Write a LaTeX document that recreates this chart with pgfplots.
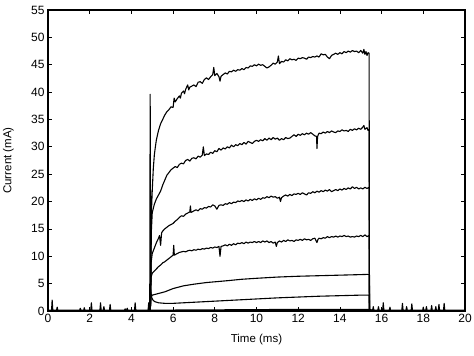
\documentclass[border=0pt]{standalone}
\usepackage{fontspec}
\setmainfont{Liberation Sans}
\usepackage{pgfplots}
\pgfplotsset{compat=1.18}
\begin{document}
\begin{tikzpicture}
\begin{axis}[
  scale only axis,
  width=417pt, height=301pt,
  xmin=0, xmax=20, ymin=0, ymax=55,
  xtick={0,2,...,20}, ytick={0,5,...,55},
  tick align=inside, major tick length=4pt,
  tick style={black, line width=0.7pt},
  axis line style={line width=1.1pt},
  /pgf/number format/assume math mode=true,
  tick label style={font=\fontsize{12}{14}\selectfont},
  label style={font=\fontsize{11.5}{14}\selectfont},
  xlabel={Time (ms)}, ylabel={Current (mA)},
  xlabel style={at={(axis description cs:0.5,0)}, anchor=center, yshift=-29pt},
  ylabel style={at={(axis description cs:-0.095,0.5)}, anchor=center},
  cycle list={{black,mark=none}},
  every axis plot/.append style={line width=1.1pt, line join=round},
  clip=false,
]
% baseline with noise spikes
\addplot coordinates {
(0,0.15)(0.17,0.15)(0.2,2)(0.23,0.15)(0.41,0.15)(0.44,0.7)(0.47,0.15)
(1.52,0.15)(1.55,0.5)(1.58,0.15)(1.71,0.15)(1.74,0.6)(1.77,0.15)
(2.05,0.15)(2.08,1.5)(2.11,0.15)(2.49,0.15)(2.52,1.5)(2.55,0.15)
(2.65,0.15)(2.68,0.8)(2.71,0.15)(2.95,0.15)(2.98,1.2)(3.01,0.15)
(3.67,0.15)(3.7,0.4)(3.73,0.15)(3.77,0.15)(3.8,0.5)(3.83,0.15)
(4.15,0.15)(4.18,1.5)(4.21,0.15)(4.8,0.15)(4.83,1.5)(4.86,0.15)
(7.5,0.2)(10,0.25)(12,0.3)(15.42,0.3)
(15.57,0.15)(15.6,0.8)(15.63,0.15)(15.82,0.15)(15.85,0.8)(15.88,0.15)
(16.05,0.15)(16.08,1.5)(16.11,0.15)(16.37,0.15)(16.4,0.7)(16.43,0.15)
(16.97,0.15)(17.0,1.4)(17.03,0.15)(17.17,0.15)(17.2,0.8)(17.23,0.15)
(17.42,0.15)(17.45,1.3)(17.48,0.15)(17.97,0.15)(18.0,0.7)(18.03,0.15)
(18.12,0.15)(18.15,0.8)(18.18,0.15)(18.37,0.15)(18.4,1.0)(18.43,0.15)
(18.57,0.15)(18.6,0.8)(18.63,0.15)(18.72,0.15)(18.75,1.2)(18.78,0.15)
(18.97,0.15)(19.0,1.4)(19.03,0.15)(20,0.15)
};
% curve 1 (with onset spike)
\addplot coordinates {
(4.88,0)(4.9,39.6)(4.93,1)(4.96,18)(5.0,22)(5.05,26)(5.1,28.5)(5.15,30)(5.2,31.3)(5.3,33)(5.4,34.2)(5.5,35)
(5.6,35.8)(5.7,36.4)(5.8,36.8)(5.9,37.3)(6.0,37.2)(6.05,38.9)(6.1,38.2)(6.2,38.8)(6.3,39.3)(6.35,38.9)
(6.4,39.8)(6.5,40.2)(6.55,39.7)(6.6,40.5)(6.7,41.3)(6.75,40.4)(6.8,40.9)(6.9,41.1)(7.0,41.3)(7.1,41.0)
(7.2,41.8)(7.3,41.9)(7.4,41.6)(7.5,42.3)(7.6,42.6)(7.7,42.3)(7.8,42.8)(7.9,43.2)(7.95,44.5)(8.0,43.0)
(8.1,43.4)(8.2,42.8)(8.25,42.0)(8.3,42.9)(8.4,43.2)(8.5,43.5)(8.6,43.3)(8.7,43.8)(8.8,43.7)(8.9,44.0)
(9.0,43.8)(9.1,44.1)(9.2,44.0)(9.3,44.3)(9.4,44.1)(9.5,44.5)(9.6,44.4)(9.7,44.8)(9.8,44.7)(9.9,45.0)
(10.0,44.8)(10.1,45.1)(10.2,44.9)(10.3,45.0)(10.4,44.7)(10.5,44.4)(10.6,44.6)(10.7,44.9)(10.8,45.3)
(10.9,45.1)(11.0,45.5)(11.05,46.6)(11.1,45.2)(11.2,45.6)(11.3,45.5)(11.4,45.9)(11.5,45.7)(11.6,46.1)
(11.7,45.9)(11.8,46.0)(11.9,45.8)(12.0,46.2)(12.1,46.1)(12.2,46.3)(12.3,46.2)(12.4,46.0)(12.5,46.4)
(12.6,46.3)(12.7,46.5)(12.8,46.4)(12.9,46.6)(13.0,46.4)(13.1,47.0)(13.2,46.8)(13.3,46.9)(13.4,46.4)
(13.5,46.1)(13.6,46.7)(13.7,46.9)(13.8,47.1)(13.9,46.9)(14.0,47.2)(14.1,47.0)(14.2,47.4)(14.3,47.2)
(14.4,47.5)(14.5,47.3)(14.6,47.6)(14.7,47.4)(14.8,47.5)(14.9,47.2)(15.0,47.6)(15.1,47.1)(15.15,47.8)
(15.2,46.9)(15.25,47.4)(15.3,46.7)(15.35,47.2)(15.4,47.1)(15.42,0)
};
% curve 2
\addplot coordinates {
(4.9,0)(4.95,14)(5.0,18)(5.1,19.5)(5.2,20.5)(5.3,21.2)(5.4,21.9)(5.5,23)(5.6,23.9)(5.7,24.8)(5.8,25.3)
(5.9,25.8)(6.0,26.1)(6.1,26.4)(6.2,26.2)(6.3,26.8)(6.4,27.0)(6.5,26.9)(6.6,27.5)(6.7,27.7)(6.8,27.4)
(6.9,27.9)(7.0,28.0)(7.1,27.8)(7.2,28.3)(7.3,28.1)(7.4,28.5)(7.45,30.0)(7.5,28.4)(7.6,28.7)(7.7,28.6)
(7.8,29.0)(7.9,28.8)(8.0,29.3)(8.1,29.1)(8.2,29.7)(8.3,29.4)(8.4,29.8)(8.5,29.6)(8.6,30.0)(8.7,29.8)
(8.8,30.3)(8.9,30.0)(9.0,30.4)(9.1,30.2)(9.2,30.6)(9.3,30.4)(9.4,30.8)(9.5,30.5)(9.6,31.0)(9.7,30.8)
(9.8,30.6)(9.9,31.0)(10.0,31.2)(10.1,31.0)(10.2,31.3)(10.3,31.1)(10.4,31.5)(10.5,31.2)(10.6,31.6)
(10.7,31.3)(10.8,31.7)(10.9,31.4)(11.0,31.6)(11.1,31.2)(11.2,31.5)(11.3,31.3)(11.4,31.7)(11.5,31.5)
(11.6,31.6)(11.7,31.9)(11.8,32.2)(11.9,31.9)(12.0,32.3)(12.1,32.1)(12.2,32.4)(12.3,32.2)(12.4,32.5)
(12.5,32.3)(12.6,32.6)(12.7,32.3)(12.8,32.0)(12.88,31.9)(12.9,29.7)(12.93,31.9)(13.0,32.5)(13.1,32.4)
(13.2,32.7)(13.3,32.5)(13.4,32.8)(13.5,32.6)(13.6,32.9)(13.7,32.7)(13.8,32.6)(13.9,32.9)(14.0,32.8)
(14.1,33.1)(14.2,32.9)(14.3,33.0)(14.4,32.8)(14.5,33.2)(14.6,33.0)(14.7,33.3)(14.8,33.1)(14.9,33.4)
(15.0,33.2)(15.1,33.6)(15.15,33.9)(15.2,33.2)(15.3,33.5)(15.35,33.0)(15.4,33.2)(15.42,0)
};
% curve 3
\addplot coordinates {
(4.9,0)(4.95,9)(5.0,10.5)(5.1,11.5)(5.2,12.5)(5.3,13.3)(5.35,13.8)(5.4,12.0)(5.45,14.3)(5.5,14.6)
(5.6,15.0)(5.7,15.3)(5.8,15.6)(5.9,15.8)(6.0,16.0)(6.1,16.4)(6.2,16.7)(6.3,17.1)(6.4,17.4)(6.5,17.3)
(6.6,17.7)(6.7,17.9)(6.8,18.1)(6.83,19.2)(6.86,18.0)(7.0,18.3)(7.1,18.5)(7.2,18.3)(7.3,18.7)(7.4,18.6)
(7.5,18.9)(7.6,18.8)(7.7,19.1)(7.8,19.0)(7.9,19.4)(8.0,19.2)(8.1,18.6)(8.2,19.3)(8.3,19.4)(8.4,19.3)
(8.5,19.6)(8.6,19.5)(8.7,19.8)(8.8,19.6)(8.9,19.9)(9.0,19.8)(9.1,20.1)(9.2,20.0)(9.3,20.2)(9.4,20.0)
(9.5,20.3)(9.6,20.1)(9.7,20.4)(9.8,20.2)(9.9,20.5)(10.0,20.3)(10.1,20.6)(10.2,20.4)(10.3,20.7)
(10.4,20.6)(10.5,20.9)(10.6,20.7)(10.7,21.0)(10.8,20.8)(10.9,20.9)(11.0,20.6)(11.1,20.8)(11.15,20.0)
(11.2,20.7)(11.3,21.0)(11.4,21.2)(11.5,21.0)(11.6,21.3)(11.7,21.1)(11.8,21.4)(11.9,21.3)(12.0,21.5)
(12.1,21.3)(12.2,21.6)(12.3,21.4)(12.4,21.2)(12.5,21.6)(12.6,21.5)(12.7,21.8)(12.8,21.6)(12.9,21.9)
(13.0,21.7)(13.1,22.0)(13.2,21.8)(13.3,22.1)(13.4,21.9)(13.5,22.2)(13.6,21.8)(13.7,22.0)(13.8,22.2)
(13.9,22.0)(14.0,22.3)(14.1,22.1)(14.2,22.4)(14.3,22.2)(14.4,22.5)(14.5,22.3)(14.6,22.7)(14.7,22.4)
(14.8,22.6)(14.9,22.3)(15.0,22.5)(15.1,22.3)(15.2,22.6)(15.3,22.4)(15.4,22.6)(15.42,0)
};
% curve 4
\addplot coordinates {
(4.9,0)(4.95,6.3)(5.0,6.9)(5.1,7.3)(5.2,7.7)(5.3,8.1)(5.4,8.4)(5.5,8.8)(5.6,9.0)(5.7,9.3)(5.8,9.6)
(5.9,9.9)(6.0,10.2)(6.03,12.0)(6.06,10.2)(6.2,10.5)(6.3,10.7)(6.4,10.8)(6.5,10.9)(6.6,10.8)(6.7,11.0)
(6.8,11.1)(6.9,11.0)(7.0,11.2)(7.1,11.1)(7.2,11.3)(7.3,11.2)(7.4,11.4)(7.5,11.3)(7.6,11.5)(7.7,11.4)
(7.8,11.6)(7.9,11.5)(8.0,11.7)(8.1,11.6)(8.2,11.8)(8.25,10.0)(8.3,11.8)(8.4,11.9)(8.5,12.1)(8.6,11.9)
(8.7,12.2)(8.8,12.0)(8.9,12.3)(9.0,12.1)(9.1,12.4)(9.2,12.3)(9.3,12.5)(9.4,12.3)(9.5,12.6)(9.6,12.4)
(9.7,12.6)(9.8,12.5)(9.9,12.7)(10.0,12.5)(10.1,12.7)(10.2,12.5)(10.3,12.8)(10.4,12.6)(10.5,12.8)
(10.6,12.5)(10.7,12.7)(10.8,12.4)(10.9,12.6)(10.95,11.8)(11.0,12.5)(11.1,12.8)(11.2,12.6)(11.3,12.9)
(11.4,12.7)(11.5,13.0)(11.6,12.8)(11.7,12.9)(11.8,12.7)(11.9,13.0)(12.0,12.9)(12.1,13.1)(12.2,12.9)
(12.3,13.2)(12.4,13.0)(12.5,13.1)(12.6,12.9)(12.7,13.2)(12.8,13.3)(12.9,12.5)(12.95,13.1)(13.0,13.3)
(13.1,13.2)(13.2,13.4)(13.3,13.3)(13.4,13.6)(13.5,13.4)(13.6,13.6)(13.7,13.5)(13.8,13.7)(13.9,13.5)
(14.0,13.7)(14.1,13.6)(14.2,13.8)(14.3,13.6)(14.4,13.7)(14.5,13.5)(14.6,13.6)(14.7,13.5)(14.8,13.7)
(14.9,13.6)(15.0,13.8)(15.1,13.6)(15.2,13.9)(15.3,13.6)(15.4,13.8)(15.42,0)
};
% curve 5
\addplot coordinates {
(4.9,0)(4.95,2.6)(5.0,2.9)(5.3,3.2)(5.6,3.5)(6.0,4.1)(6.5,4.6)(7.0,4.9)(7.6,5.2)(8.5,5.5)(9.3,5.8)
(10.1,6.0)(11,6.2)(12,6.35)(13,6.45)(14,6.55)(15,6.65)(15.4,6.7)(15.42,0)
};
% curve 6
\addplot coordinates {
(4.9,0)(4.92,4)(4.97,2.5)(5.05,1.9)(5.13,1.7)(5.3,1.5)(5.6,1.4)(6.0,1.4)(7.0,1.6)(8,1.8)(9,2.0)
(10,2.2)(11,2.4)(12,2.55)(13,2.7)(14,2.8)(15,2.9)(15.4,2.9)(15.42,0)
};
\end{axis}
\pgfresetboundingbox
\path (current axis.south west)+(-48pt,-45pt) rectangle ([xshift=9pt,yshift=10pt]current axis.north east);
\end{tikzpicture}
\end{document}
